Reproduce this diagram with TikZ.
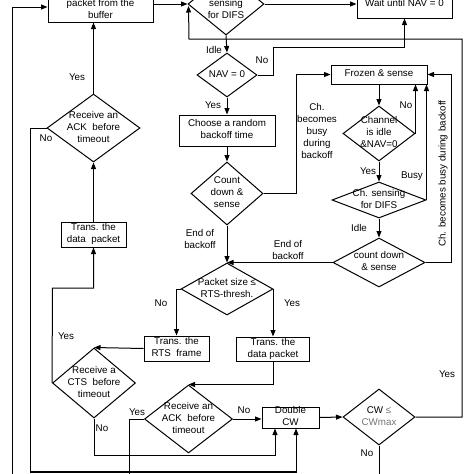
\documentclass[tikz,border=0pt]{standalone}
\usepackage{fontspec}
\setmainfont{Liberation Sans}
\usetikzlibrary{shapes.geometric,arrows.meta,calc}
\definecolor{lighttxt}{gray}{0.45}
\newcommand{\ztext}[2][0pt]{\smash{\makebox[0pt]{\raisebox{#1}{\raisebox{-0.25em}{\begin{tabular}{@{}c@{}}#2\end{tabular}}}}}}
\begin{document}
\begin{tikzpicture}[x=1pt,y=-1pt, line width=1pt,
  font=\fontsize{9.8}{12}\selectfont,
  box/.style 2 args={draw, rectangle, minimum width=#1, minimum height=#2, inner sep=0pt},
  dia/.style 2 args={draw, diamond, minimum width=#1, minimum height=#2, inner sep=0pt},
  arr/.style={-{Triangle[length=6.5pt,width=5pt]}},
  lbl/.style={inner sep=0pt, align=center}]
\useasboundingbox (0,0) rectangle (474,474);
\clip (0,0) rectangle (474,474);
% boxes and decisions
\node[box={105pt}{24pt}] (get) at (100.5,10) {\ztext{packet from the\\buffer}};
\node[box={95pt}{28pt}] (wait) at (404.5,4) {\ztext{Wait until NAV = 0}};
\node[dia={76pt}{62pt}] (sense1) at (226,4) {\ztext[-6pt]{sensing\\for DIFS}};
\node[dia={60pt}{44pt}] (nav) at (227,75) {\ztext{NAV = 0}};
\node[box={96pt}{31pt}] (choose) at (227,130.5) {\ztext{Choose a random\\backoff time}};
\node[dia={72pt}{63pt}] (cnt1) at (227,193.5) {\ztext{Count\\down \&\\sense}};
\node[dia={92pt}{52pt}] (pkt) at (227,289) {\ztext{Packet size ≤\\RTS-thresh.}};
\node[box={96pt}{19pt}] (frozen) at (379,74.5) {\ztext{Frozen \& sense}};
\node[dia={72pt}{55pt}] (chan) at (379,133.5) {\ztext{Channel\\is idle\\\&NAV=0}};
\node[dia={94pt}{36pt}] (sense2) at (379,200) {\ztext{Ch. sensing\\for DIFS}};
\node[dia={92pt}{49pt}] (cnt2) at (379,262.5) {\ztext{count down\\\& sense}};
\node[dia={93pt}{68pt}] (ack1) at (93.5,128) {\ztext{Receive an\\ACK\ \ before\\timeout}};
\node[box={65pt}{25pt}] (data1) at (93.5,234.5) {\ztext{Trans. the\\data\ \ packet}};
\node[dia={83pt}{70pt}] (cts) at (94,383) {\ztext{Receive a\\CTS\ \ before\\timeout}};
\node[box={65pt}{25pt}] (rts) at (176.5,348.5) {\ztext{Trans. the\\RTS\ \ frame}};
\node[box={73pt}{24pt}] (data2) at (273,349) {\ztext{Trans. the\\data packet}};
\node[dia={88pt}{68pt}] (ack2) at (188.5,419) {\ztext{Receive an\\ACK\ \ before\\timeout}};
\node[box={57pt}{21pt}] (dcw) at (290.5,417.5) {\ztext{Double\\CW}};
\node[dia={72pt}{56pt}] (cw) at (379,417) {\ztext{CW {\color{lighttxt}≤}\\{\color{lighttxt}CWmax}}};
% labels
\node[lbl] (l1) at (214,50) {Idle};
\node[lbl] (l2) at (262,60) {No};
\node[lbl] (l3) at (213,105) {Yes};
\node[lbl] (l4) at (317,130.5) {Ch.\\becomes\\busy\\during\\backoff};
\node[lbl] (l5) at (200,238.5) {End of\\backoff};
\node[lbl] (l6) at (406,105) {No};
\node[lbl] (l7) at (368,171) {Yes};
\node[lbl] (l8) at (412,176) {Busy};
\node[lbl] (l9) at (359,228) {Idle};
\node[lbl, rotate=90] (l10) at (443,173.5) {Ch. becomes busy during backoff};
\node[lbl] (l11) at (288,250) {End of\\backoff};
\node[lbl] (l12) at (161,303) {No};
\node[lbl] (l13) at (292,303) {Yes};
\node[lbl] (l14) at (77,77) {Yes};
\node[lbl] (l15) at (46,138) {No};
\node[lbl] (l16) at (66,336) {Yes};
\node[lbl] (l17) at (102,428) {No};
\node[lbl] (l18) at (137,412) {Yes};
\node[lbl] (l19) at (244,410) {No};
\node[lbl] (l20) at (367,453) {No};
\node[lbl] (l21) at (447,374) {Yes};
% coordinates
\coordinate (c1) at (273,47);
\coordinate (c2) at (462,39);
\coordinate (c3) at (189,39);
\coordinate (c4) at (296,74.5);
\coordinate (c5) at (451,74.5);
\coordinate (c6) at (52.5,288);
\coordinate (c7) at (30,472);
\coordinate (c8) at (94,455);
\coordinate (c9) at (129,490);
\coordinate (c10) at (379,490);
\coordinate (c11) at (12,490);
\coordinate (c12) at (12,7);
\coordinate (c13) at (296,472);
% connectors
\draw[arr] (get.east |- sense1.west) -- (sense1.west);
\draw[arr] (sense1.east) -- (wait.west);
\draw[arr] (sense1.south) -- (nav.north);
\draw[arr] (nav.east) -| (c1) -| (wait.south);
\draw[arr] (cw.east) -| (c2) -- (c3) -- ([xshift=1pt,yshift=-2pt]sense1.west);
\draw[arr] (nav.south) -- (choose.north);
\draw[arr] (choose.south) -- (cnt1.north);
\draw[arr] (cnt1.east) -| (c4) -- (frozen.west);
\draw[arr] (cnt1.south) -- (pkt.north);
\draw[arr] (frozen.south) -- (chan.north);
\draw[arr] (chan.east) -- (chan.east |- frozen.south);
\draw[arr] (chan.south) -- (sense2.north);
\draw[arr] (sense2.east) -- (sense2.east |- frozen.south);
\draw[arr] (sense2.south) -- (cnt2.north);
\draw[arr] (cnt2.east) -| (c5) -- (frozen.east);
\draw[arr] (cnt2.west) -- (pkt.north);
\draw[arr] (pkt.west) -| (rts.north);
\draw[arr] (pkt.east) -| (data2.north);
\draw[arr] (rts.west) -- (cts.north);
\draw[arr] (cts.west) -- (c6) -| (data1.south);
\draw[arr] (data1.north) -- (ack1.south);
\draw[arr] (ack1.north) -- (ack1.north |- get.south);
\draw[arr] (ack1.west) -| (c7) -- (c13) -- (c13 |- dcw.south);
\draw[line width=1.8pt] (c7) -- (c13);
\draw[arr] (cts.south) -- (c8) -| ([xshift=-15.5pt]dcw.south);
\draw[arr] (data2.south) |- (ack2.north);
\draw[arr] (ack2.east) -- (ack2.east -| dcw.west);
\draw[arr] (dcw.east) -- (cw.west);
\draw (ack2.west) -| (c9);
\draw (cw.south) -- (c10);
\draw[arr] (c11) -- (c12) -- (c12 -| get.west);
\end{tikzpicture}
\end{document}
